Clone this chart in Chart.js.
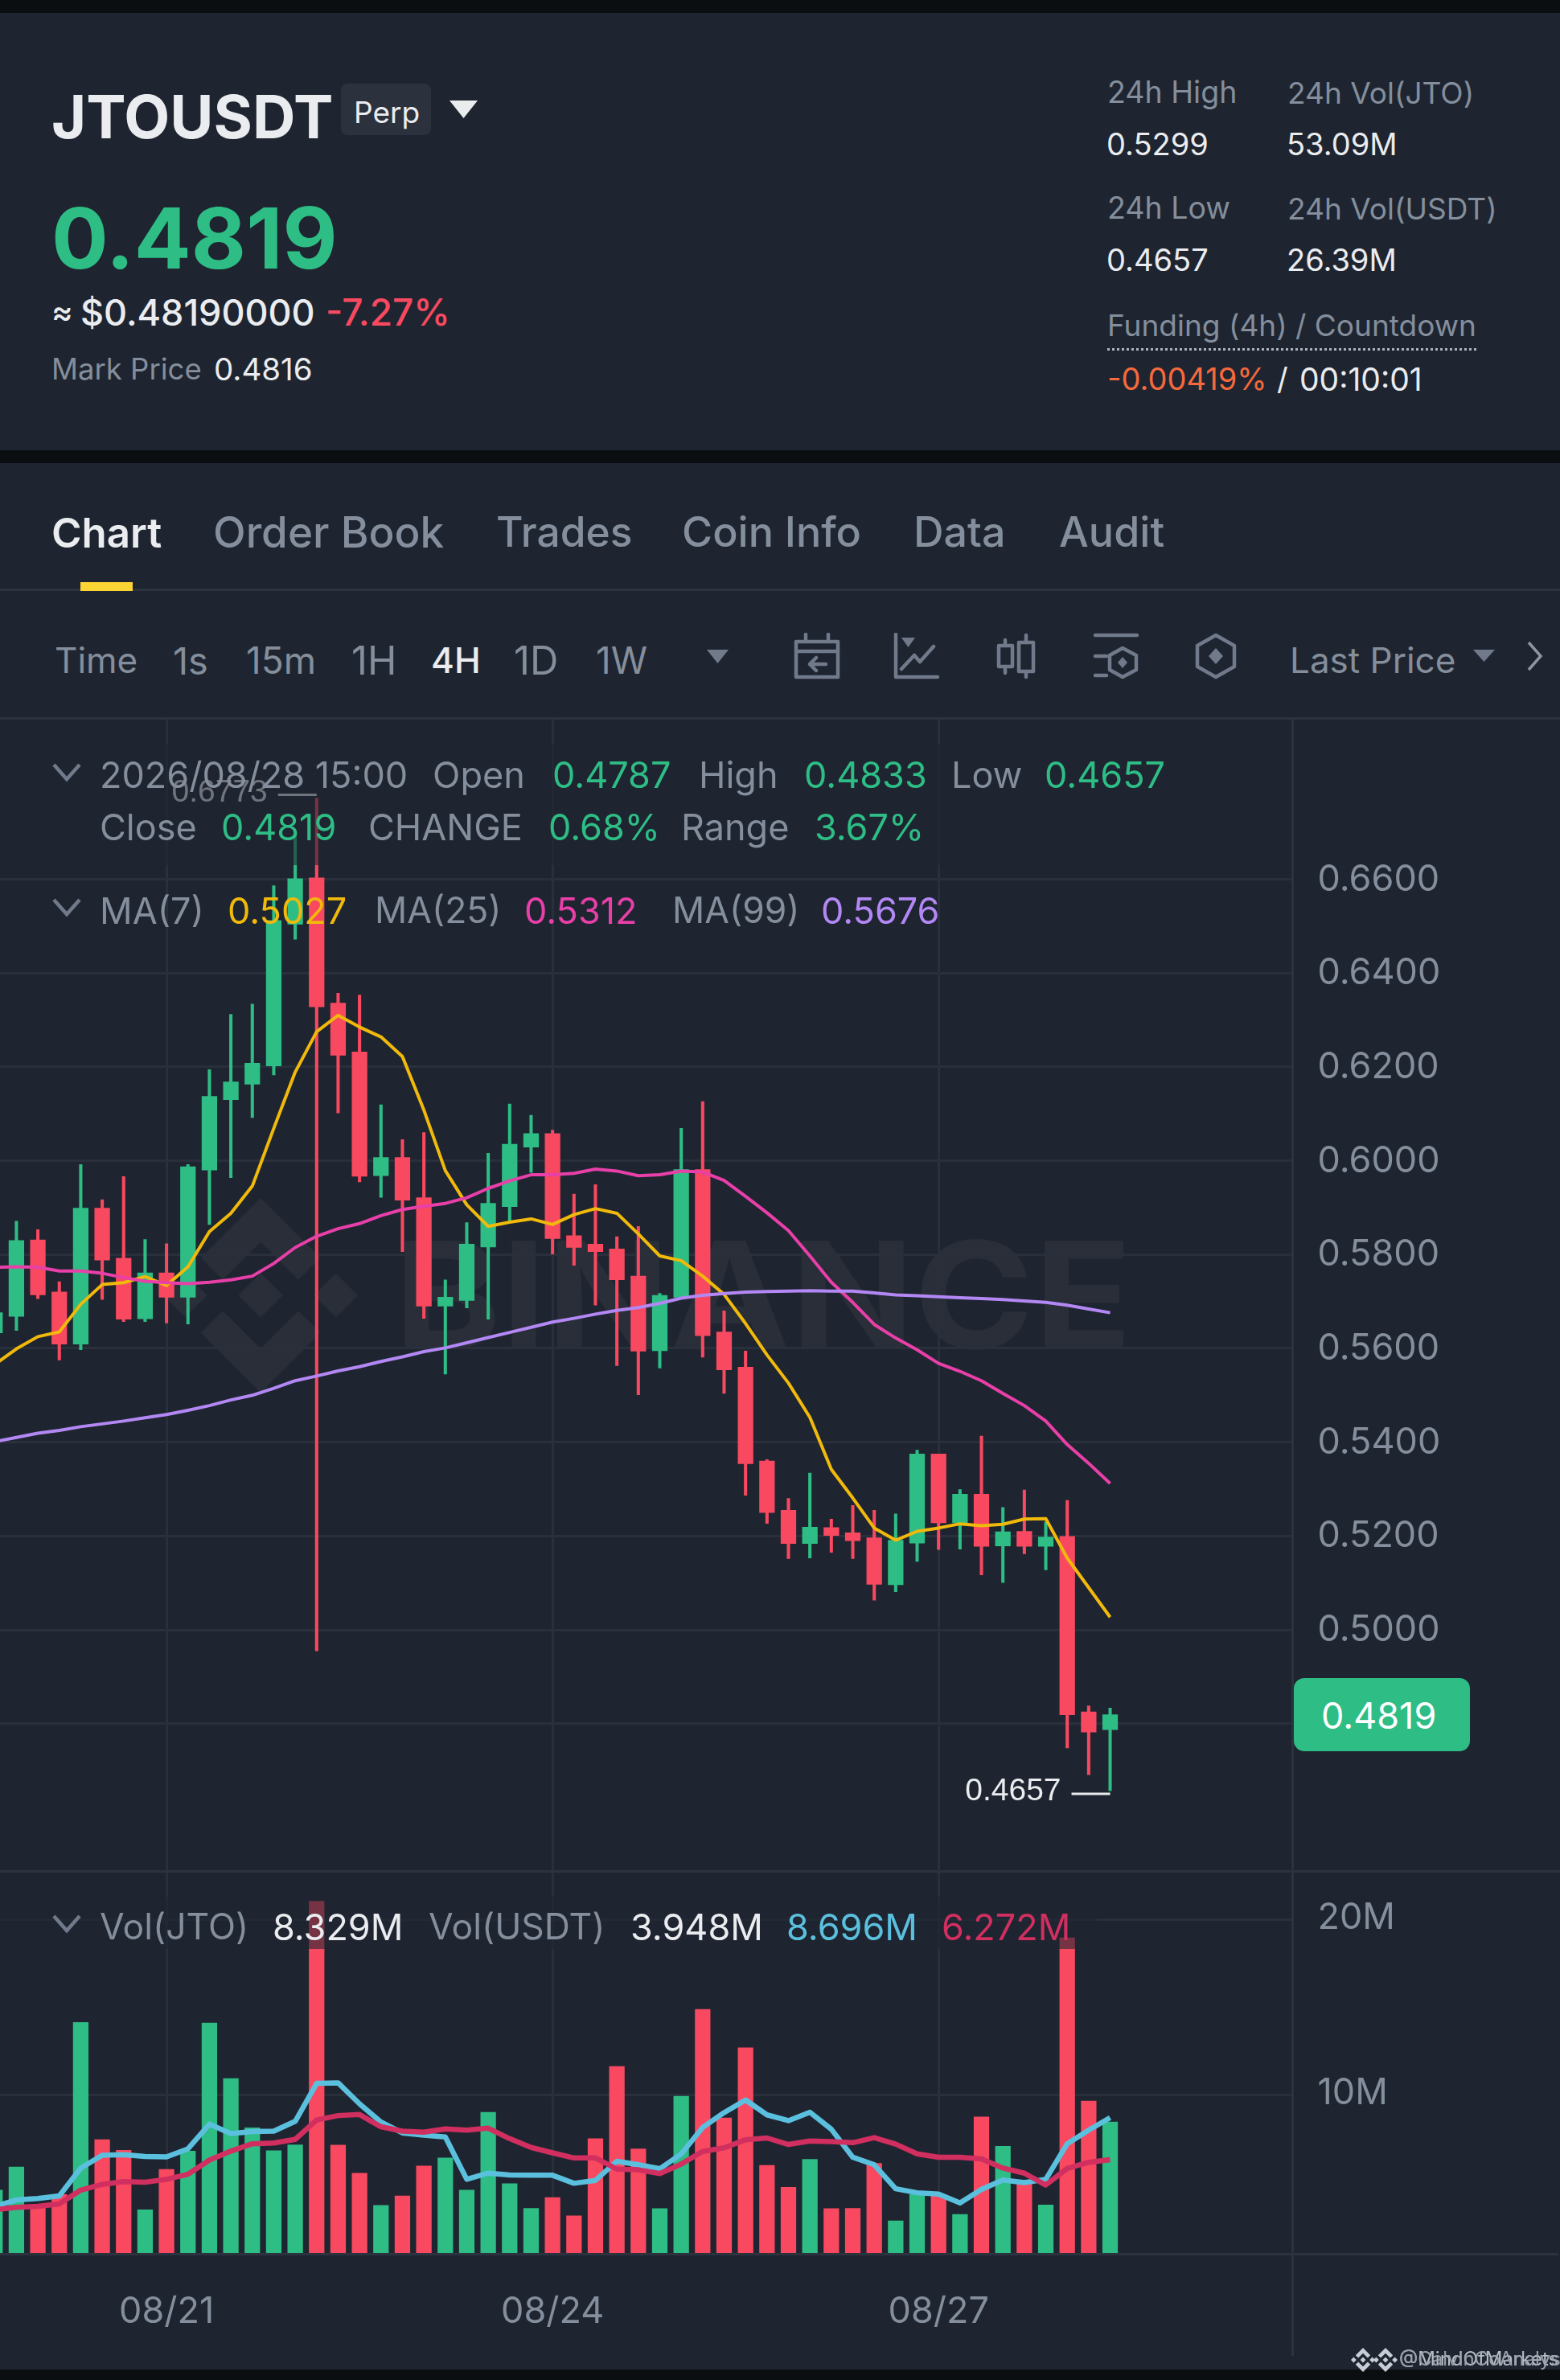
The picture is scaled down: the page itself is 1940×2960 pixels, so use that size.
<!DOCTYPE html>
<html>
<head>
<meta charset="utf-8">
<title>JTOUSDT</title>
<script src="https://cdn.jsdelivr.net/npm/chart.js@4"></script>
<style>
html, body { margin: 0; padding: 0; background: #0b0e11; }
#page { position: relative; width: 1940px; height: 2960px; overflow: hidden; background: #1e2530; font-family: Inter, sans-serif; }
.bar { position: absolute; left: 0; width: 1940px; background: #0b0e11; }
.rule { position: absolute; background: #2c323e; z-index: 3; }
.dim { position: absolute; background: rgba(30,37,48,.6); z-index: 3; }
.t { position: absolute; white-space: pre; line-height: 1; transform: translateY(-50%); z-index: 4; }
canvas { position: absolute; left: 0; z-index: 2; }
svg { position: absolute; z-index: 4; }
#mark { z-index: 1; }
#word { z-index: 1; }
</style>
</head>
<body>
<div id="page">
  <div class="bar" style="top:0;height:16px"></div>
  <div class="bar" style="top:560px;height:16px"></div>
  <div class="bar" style="top:2947px;height:13px"></div>

  <div style="position:absolute;left:424px;top:104px;width:112px;height:64px;background:#2b313d;border-radius:8px"></div>
  <div style="position:absolute;left:1377px;top:433px;width:459px;border-top:3px dotted #aeb4bc;z-index:4"></div>
  <div style="position:absolute;left:100px;top:724px;width:65px;height:11px;background:#fcd535;z-index:4"></div>
  <div class="rule" style="left:0;top:732px;width:1940px;height:3px;z-index:2"></div>
  <div class="rule" style="left:0;top:892px;width:1940px;height:3px"></div>
  <div class="rule" style="left:0;top:2326px;width:1940px;height:3px"></div>
  <div class="rule" style="left:0;top:2802px;width:1938px;height:3px"></div>
  <div class="rule" style="left:1606px;top:2802px;width:3px;height:128px"></div>

  <svg id="mark" width="242" height="242" viewBox="0 0 126.61 126.61" style="left:203px;top:1490px">
    <path fill="#292e39" d="M38.73 53.2l24.59-24.58 24.6 24.6 14.3-14.31L63.32 0 24.42 38.9zM0 63.31L14.3 49l14.31 14.31-14.31 14.3zM38.73 73.41l24.59 24.59 24.6-24.6 14.31 14.29-38.9 38.91-38.91-38.88-.02-.02zM98 63.31l14.3-14.31 14.31 14.3-14.31 14.32zM77.83 63.3L63.32 48.78 52.59 59.51l-1.24 1.23-2.54 2.54 14.51 14.5 14.51-14.47z"/>
  </svg>
  <svg id="word" width="960" height="170" style="left:480px;top:1530px">
    <text x="10" y="147" textLength="918" lengthAdjust="spacingAndGlyphs" font-family="Inter" font-weight="700" font-size="184" fill="#292e39">BINANCE</text>
  </svg>

  <canvas id="priceChart" width="1940" height="1433" style="top:894px"></canvas>
  <canvas id="volChart" width="1940" height="618" style="top:2329px"></canvas>

  <div class="dim" style="left:0;top:925px;width:1460px;height:151px"></div>
  <div class="dim" style="left:0;top:2359px;width:1364px;height:65px"></div>

  <div style="position:absolute;left:1609px;top:2087px;width:219px;height:91px;border-radius:13px;background:#2ebd85;z-index:4"></div>

  <!-- triangles -->
  <svg width="36" height="24" style="left:559px;top:125px"><path d="M0 0H35L17.5 22z" fill="#eaecef"/></svg>
  <svg width="28" height="18" style="left:879px;top:808px"><path d="M0 0H27L13.5 17z" fill="#707a8a"/></svg>
  <svg width="28" height="16" style="left:1832px;top:808px"><path d="M0 0H27L13.5 15z" fill="#707a8a"/></svg>
  <svg width="22" height="38" style="left:1898px;top:797px"><path d="M3 2L18 19L3 36" fill="none" stroke="#8c95a3" stroke-width="3.5"/></svg>
  <svg width="40" height="26" style="left:64px;top:948px"><path d="M3 3L19 21L35 3" fill="none" stroke="#707a8a" stroke-width="4.5"/></svg>
  <svg width="40" height="26" style="left:64px;top:1116px"><path d="M3 3L19 21L35 3" fill="none" stroke="#707a8a" stroke-width="4.5"/></svg>
  <svg width="40" height="26" style="left:64px;top:2380px"><path d="M3 3L19 21L35 3" fill="none" stroke="#707a8a" stroke-width="4.5"/></svg>

  <!-- toolbar icons -->
  <svg width="58" height="58" style="left:987px;top:787px" fill="none" stroke="#707a8a" stroke-width="4.5" stroke-linecap="round" stroke-linejoin="round">
    <rect x="3" y="11" width="52" height="44"/><path d="M3 23H55M15 2V11M43 2V11M40 39H20M28 31L20 39L28 47"/>
  </svg>
  <svg width="58" height="58" style="left:1111px;top:787px" fill="none" stroke="#707a8a" stroke-width="4.5" stroke-linecap="round" stroke-linejoin="round">
    <path d="M3 2V55H55M10 45L26 28L33 36L50 17"/><path d="M10 6H27L18.5 18z" fill="#707a8a" stroke="none"/>
  </svg>
  <svg width="52" height="58" style="left:1238px;top:787px" fill="none" stroke="#707a8a" stroke-width="4.5" stroke-linecap="round" stroke-linejoin="round">
    <rect x="4" y="16" width="17" height="26"/><path d="M12 9V16M12 42V50"/><rect x="29" y="12" width="18" height="36"/><path d="M38 3V12M38 48V55"/>
  </svg>
  <svg width="58" height="58" style="left:1359px;top:787px" fill="none" stroke="#707a8a" stroke-width="4.5" stroke-linecap="round" stroke-linejoin="round">
    <path d="M3 3H55M3 29H17M3 53H17"/><path d="M37 19L54 28V46L37 55L21 46V28z"/><path d="M37 30L43 37L37 44L31 37z" fill="#707a8a" stroke="none"/>
  </svg>
  <svg width="54" height="58" style="left:1485px;top:787px" fill="none" stroke="#707a8a" stroke-width="4.5" stroke-linejoin="round">
    <path d="M27 3L50 16V42L27 55L4 42V16z"/><path d="M27 19L36 29L27 39L18 29z" fill="#707a8a" stroke="none"/>
  </svg>

  <!-- attribution marks -->
  <svg width="34" height="30" viewBox="0 0 126.61 126.61" style="left:1678px;top:2920px"><path fill="#c9ced6" d="M38.73 53.2l24.59-24.58 24.6 24.6 14.3-14.31L63.32 0 24.42 38.9zM0 63.31L14.3 49l14.31 14.31-14.31 14.3zM38.73 73.41l24.59 24.59 24.6-24.6 14.31 14.29-38.9 38.91-38.91-38.88-.02-.02zM98 63.31l14.3-14.31 14.31 14.3-14.31 14.32zM77.83 63.3L63.32 48.78 52.59 59.51l-1.24 1.23-2.54 2.54 14.51 14.5 14.51-14.47z"/></svg>
  <svg width="30" height="30" viewBox="0 0 126.61 126.61" style="left:1708px;top:2920px"><path fill="#c9ced6" d="M38.73 53.2l24.59-24.58 24.6 24.6 14.3-14.31L63.32 0 24.42 38.9zM0 63.31L14.3 49l14.31 14.31-14.31 14.3zM38.73 73.41l24.59 24.59 24.6-24.6 14.31 14.29-38.9 38.91-38.91-38.88-.02-.02zM98 63.31l14.3-14.31 14.31 14.3-14.31 14.32zM77.83 63.3L63.32 48.78 52.59 59.51l-1.24 1.23-2.54 2.54 14.51 14.5 14.51-14.47z"/></svg>
</div>

<script>
const opens = [.5633,.5668,.5831,.5720,.5609,.5899,.5792,.5663,.5761,.5709,.5980,.6130,.6163,.6202,.6504,.6603,.6336,.6232,.5968,.6007,.5921,.5690,.5702,.5816,.5902,.6029,.6058,.5840,.5822,.5812,.5754,.5595,.5709,.5981,.5635,.5560,.5360,.5255,.5184,.5218,.5207,.5196,.5096,.5185,.5375,.5228,.5289,.5179,.5210,.5178,.5199,.4825,.4787];
const highs = [.5700,.5871,.5853,.5742,.5992,.5917,.5966,.5832,.5823,.5992,.6194,.6312,.6334,.6586,.6694,.6773,.6357,.6353,.6119,.6045,.6060,.5746,.5868,.6016,.6121,.6097,.6065,.5929,.5949,.5838,.5860,.5717,.6069,.6126,.5680,.5594,.5363,.5280,.5334,.5236,.5265,.5255,.5247,.5383,.5375,.5299,.5413,.5261,.5298,.5230,.5276,.4838,.4833];
const lows = [.5615,.5638,.5706,.5575,.5597,.5704,.5657,.5657,.5654,.5652,.5864,.5964,.6092,.6183,.6472,.4955,.6102,.5955,.5922,.5806,.5664,.5545,.5686,.5662,.5872,.5975,.5801,.5777,.5692,.5563,.5501,.5558,.5707,.5581,.5504,.5287,.5227,.5152,.5153,.5165,.5152,.5063,.5081,.5146,.5171,.5172,.5117,.5101,.5162,.5128,.4748,.4691,.4657];
const closes = [.5676,.5830,.5714,.5609,.5899,.5788,.5662,.5761,.5709,.5987,.6137,.6168,.6208,.6512,.6601,.6328,.6225,.5967,.6007,.5916,.5690,.5709,.5822,.5909,.6035,.6058,.5834,.5815,.5806,.5746,.5594,.5713,.5981,.5627,.5554,.5354,.5250,.5184,.5219,.5201,.5190,.5097,.5191,.5375,.5228,.5289,.5178,.5209,.5178,.5198,.4819,.4782,.4819];

const ma7 = [.5566,.5599,.5625,.5635,.5694,.5736,.5740,.5753,.5734,.5774,.5849,.5888,.5946,.6069,.6189,.6275,.6310,.6285,.6264,.6222,.6108,.5979,.5906,.5860,.5869,.5876,.5864,.5885,.5898,.5888,.5844,.5797,.5787,.5754,.5715,.5653,.5586,.5526,.5453,.5342,.5281,.5217,.5191,.5210,.5217,.5226,.5222,.5225,.5236,.5237,.5153,.5090,.5027];
const ma25 = [.5773,.5774,.5773,.5765,.5765,.5760,.5751,.5743,.5740,.5738,.5741,.5746,.5754,.5781,.5815,.5839,.5855,.5866,.5883,.5896,.5903,.5909,.5921,.5941,.5957,.5970,.5970,.5973,.5982,.5978,.5968,.5970,.5978,.5976,.5958,.5924,.5889,.5851,.5797,.5741,.5698,.5651,.5622,.5597,.5568,.5551,.5531,.5504,.5478,.5445,.5395,.5355,.5312];
const ma99 = [.5401,.5410,.5419,.5425,.5433,.5439,.5445,.5452,.5459,.5468,.5478,.5490,.5500,.5515,.5531,.5541,.5552,.5561,.5572,.5582,.5593,.5601,.5612,.5623,.5634,.5645,.5656,.5664,.5673,.5681,.5687,.5696,.5707,.5713,.5717,.5720,.5721,.5722,.5723,.5722,.5722,.5718,.5714,.5712,.5710,.5708,.5706,.5704,.5701,.5698,.5692,.5684,.5676];

const volumes = [4.56,5.88,3.63,4.31,14.14,7.44,6.84,3.44,5.74,6.79,14.10,10.93,8.12,6.81,7.15,21.06,7.13,5.53,3.69,4.23,5.94,6.40,4.56,9.01,4.93,3.52,4.14,3.09,7.50,11.62,6.92,3.50,9.92,14.89,8.68,12.69,5.97,4.72,6.32,3.50,3.52,6.09,2.80,4.31,4.31,3.17,8.74,7.06,4.99,3.71,18.97,9.65,8.45];
const volMaA = [3.63,4.00,4.08,4.23,5.82,6.55,6.59,6.48,6.46,6.92,8.33,7.79,7.91,7.93,8.49,10.66,10.69,9.49,8.45,7.83,7.70,7.60,5.18,5.53,5.43,5.41,5.41,4.95,5.12,6.21,6.01,5.78,6.63,8.14,8.99,9.71,8.86,8.53,9.01,8.04,6.44,6.01,4.64,4.41,4.33,3.83,4.60,5.14,4.99,5.18,7.21,7.99,8.70];
const volMaB = [3.44,3.58,3.63,3.77,4.56,4.89,5.05,5.01,5.18,5.47,6.28,6.79,7.21,7.25,7.46,8.57,8.82,8.88,8.18,7.93,7.87,8.06,7.99,8.10,7.50,7.00,6.69,6.40,6.40,5.76,5.72,5.51,6.05,6.77,6.98,7.44,7.54,7.17,7.37,7.33,7.27,7.56,7.19,6.63,6.44,6.44,6.34,5.82,5.53,4.85,5.80,6.15,6.30];

const priceTicks = [.48,.50,.52,.54,.56,.58,.60,.62,.64,.66];
const priceLabels = ['', '0.5000', '0.5200', '0.5400', '0.5600', '0.5800', '0.6000', '0.6200', '0.6400', '0.6600'];
const volTicks = [10, 20];
const volLabels = ['10M', '20M'];
const dateTicks = [8, 26, 44];
const dateLabels = ['08/21', '08/24', '08/27'];

const GREEN = '#2ebd85';
const RED = '#f84960';
const GRID = '#292f3b';
const AXIS = '#2c323e';
const GRAY = '#848e9c';
const WHITE = '#eaecef';
const FONT = 'Inter';

// text, left, centre y, size, colour, weight
const uiTexts = [
  ['JTOUSDT', 64, 145, 74, WHITE, 700],
  ['Perp', 440, 139, 37, WHITE, 400],
  ['0.4819', 64, 295, 105, GREEN, 700],
  ['≈', 64, 388, 40, WHITE, 500],
  ['$0.48190000', 100, 388, 45, WHITE, 500],
  ['-7.27%', 405, 388, 46, RED, 500],
  ['Mark Price', 64, 459, 36.5, GRAY, 400],
  ['0.4816', 266, 459, 38.5, WHITE, 400],
  ['24h High', 1377, 115, 37.5, GRAY, 400],
  ['0.5299', 1376, 179, 38, WHITE, 400],
  ['24h Vol(JTO)', 1601, 115, 37, GRAY, 400],
  ['53.09M', 1600, 179, 38, WHITE, 400],
  ['24h Low', 1377, 259, 37.5, GRAY, 400],
  ['0.4657', 1376, 323, 38, WHITE, 400],
  ['24h Vol(USDT)', 1601, 259, 37, GRAY, 400],
  ['26.39M', 1600, 323, 38, WHITE, 400],
  ['Funding (4h) / Countdown', 1377, 404, 37, GRAY, 400],
  ['-0.00419%', 1377, 471, 38, '#f6693d', 400],
  ['/', 1588, 471, 38, WHITE, 400],
  ['00:10:01', 1616, 471, 39, WHITE, 400],
  ['Chart', 64, 662, 51, WHITE, 600],
  ['Order Book', 265, 662, 53, GRAY, 500],
  ['Trades', 617, 662, 51.5, GRAY, 500],
  ['Coin Info', 848, 662, 52, GRAY, 500],
  ['Data', 1136, 662, 52, GRAY, 500],
  ['Audit', 1317, 662, 52, GRAY, 500],
  ['Time', 68, 821, 44, GRAY, 400],
  ['1s', 215, 821, 47, GRAY, 400],
  ['15m', 306, 821, 46, GRAY, 400],
  ['1H', 437, 821, 49, GRAY, 400],
  ['4H', 536, 821, 44, WHITE, 500],
  ['1D', 639, 821, 49, GRAY, 400],
  ['1W', 741, 821, 46, GRAY, 400],
  ['Last Price', 1604, 821, 44, GRAY, 400],
  ['2026/08/28 15:00', 124, 963, 45, GRAY, 400],
  ['Open', 538, 963, 45, GRAY, 400],
  ['0.4787', 687, 963, 45, GREEN, 400],
  ['High', 869, 963, 45, GRAY, 400],
  ['0.4833', 1000, 963, 45, GREEN, 400],
  ['Low', 1183, 963, 45, GRAY, 400],
  ['0.4657', 1299, 963, 45, GREEN, 400],
  ['Close', 124, 1028, 45, GRAY, 400],
  ['0.4819', 275, 1028, 45, GREEN, 400],
  ['CHANGE', 458, 1028, 45, GRAY, 400],
  ['0.68%', 682, 1028, 45, GREEN, 400],
  ['Range', 847, 1028, 45, GRAY, 400],
  ['3.67%', 1013, 1028, 45, GREEN, 400],
  ['MA(7)', 124, 1132, 45, GRAY, 400],
  ['0.5027', 283, 1132, 45, '#f0b90b', 400],
  ['MA(25)', 466, 1132, 44.5, GRAY, 400],
  ['0.5312', 652, 1132, 45, '#e83fa8', 400],
  ['MA(99)', 836, 1132, 44.5, GRAY, 400],
  ['0.5676', 1021, 1132, 45, '#b388f5', 400],
  ['Vol(JTO)', 124, 2396, 44.5, GRAY, 400],
  ['8.329M', 339, 2396, 45, WHITE, 400],
  ['Vol(USDT)', 533, 2396, 44.5, GRAY, 400],
  ['3.948M', 784, 2396, 45, WHITE, 400],
  ['8.696M', 978, 2396, 45, '#5bc0de', 400],
  ['6.272M', 1171, 2396, 45, '#d12f60', 400],
  ['0.4819', 1643, 2133, 45, '#ffffff', 400],
  ['@MindOfMarkets', 1740, 2934, 24, '#b7bdc6', 400],
  ['@CalvinCoAnalyst', 1740, 2934, 24, '#9aa1ab', 400],
];

const page = document.getElementById('page');
uiTexts.forEach(([str, x, y, size, color, weight]) => {
  const el = document.createElement('div');
  el.className = 't';
  el.textContent = str;
  el.style.cssText = `left:${x}px;top:${y}px;font-size:${size}px;color:${color};font-weight:${weight}`;
  page.appendChild(el);
});

const indices = opens.map((_, i) => i);
const candleColor = ctx => closes[ctx.dataIndex] >= opens[ctx.dataIndex] ? GREEN : RED;
const line = (values, color, width, order) => ({
  type: 'line', order, data: values.map((y, x) => ({x, y})),
  borderColor: color, borderWidth: width, pointRadius: 0, tension: 0,
  borderJoinStyle: 'round', borderCapStyle: 'butt',
});

// x axis shared by both panes, a candle is 26.67px apart on the 1607px plot
const xRange = {type: 'linear', min: 0.2347, max: 60.51};

const extremeLabels = {
  id: 'extremeLabels',
  afterDatasetsDraw(chart) {
    const {x, y} = chart.scales;
    const {ctx} = chart;
    [[highs.indexOf(Math.max(...highs)), Math.max(...highs), -4, -7], [lows.indexOf(Math.min(...lows)), Math.min(...lows), 4, 0]].forEach(([i, val, lineOff, textOff]) => {
      const px = x.getPixelForValue(i);
      const py = y.getPixelForValue(val);
      ctx.save();
      ctx.strokeStyle = WHITE;
      ctx.lineWidth = 3;
      ctx.beginPath();
      ctx.moveTo(px - 48, py + lineOff);
      ctx.lineTo(px, py + lineOff);
      ctx.stroke();
      ctx.fillStyle = WHITE;
      ctx.font = '39px "Liberation Sans"';
      ctx.textAlign = 'right';
      ctx.textBaseline = 'middle';
      ctx.fillText(val.toFixed(4), px - 61, py + textOff + 1);
      ctx.restore();
    });
  },
};

new Chart(document.getElementById('priceChart'), {
  data: {
    datasets: [
      line(ma99, '#b388f5', 4, 0),
      line(ma25, '#e83fa8', 4, 1),
      line(ma7, '#f0b90b', 4, 2),
      {type: 'bar', order: 3, grouped: false, barThickness: 18.6,
        data: indices.map(i => ({x: i, y: [opens[i], closes[i]]})),
        backgroundColor: candleColor},
      {type: 'bar', order: 4, grouped: false, barThickness: 3.4,
        data: indices.map(i => ({x: i, y: [lows[i], highs[i]]})),
        backgroundColor: candleColor},
    ],
  },
  options: {
    responsive: false, animation: false,
    layout: {padding: 0},
    plugins: {legend: {display: false}, tooltip: {enabled: false}},
    scales: {
      x: {...xRange, offset: false,
        grid: {color: GRID, lineWidth: 3, drawTicks: false, offset: false},
        border: {display: false},
        ticks: {display: false},
        afterBuildTicks: s => { s.ticks = dateTicks.map(value => ({value})); },
        afterFit: s => { s.height = 0; },
      },
      y: {type: 'linear', position: 'right', min: 0.44858, max: 0.6942,
        grid: {color: GRID, lineWidth: 3, drawTicks: false},
        border: {display: true, color: AXIS, width: 3},
        ticks: {autoSkip: false, color: GRAY, font: {family: FONT, size: 45}, padding: 31,
          crossAlign: 'near', labelOffset: 0.5,
          callback: v => priceLabels[priceTicks.findIndex(t => Math.abs(t - v) < 1e-6)] ?? ''},
        afterBuildTicks: s => { s.ticks = priceTicks.map(value => ({value})); },
        afterFit: s => { s.width = 332.5; s.paddingTop = 0; s.paddingBottom = 0; },
      },
    },
  },
  plugins: [extremeLabels],
});

new Chart(document.getElementById('volChart'), {
  data: {
    datasets: [
      line(volMaB, '#d12f60', 6.5, 0),
      line(volMaA, '#5bc0de', 6.5, 1),
      {type: 'bar', order: 2, barThickness: 18.6,
        data: indices.map(i => ({x: i, y: volumes[i]})),
        backgroundColor: candleColor},
    ],
  },
  options: {
    responsive: false, animation: false,
    layout: {padding: 0},
    plugins: {legend: {display: false}, tooltip: {enabled: false}},
    scales: {
      x: {...xRange, offset: false,
        grid: {color: GRID, lineWidth: 3, drawTicks: false, offset: false},
        border: {display: false},
        ticks: {autoSkip: false, maxRotation: 0, color: GRAY, font: {family: FONT, size: 45}, padding: 46,
          callback: v => dateLabels[dateTicks.indexOf(v)] ?? ''},
        afterBuildTicks: s => { s.ticks = dateTicks.map(value => ({value})); },
        afterFit: s => { s.height = 145; s.paddingLeft = 0; s.paddingRight = 0; },
      },
      y: {type: 'linear', position: 'right', min: 0.97, max: 22.7,
        grid: {color: GRID, lineWidth: 3, drawTicks: false},
        border: {display: true, color: AXIS, width: 3},
        ticks: {autoSkip: false, color: GRAY, font: {family: FONT, size: 45}, padding: 31,
          crossAlign: 'near', labelOffset: -2,
          callback: v => volLabels[volTicks.indexOf(v)] ?? ''},
        afterBuildTicks: s => { s.ticks = volTicks.map(value => ({value})); },
        afterFit: s => { s.width = 332.5; s.paddingTop = 0; s.paddingBottom = 0; },
      },
    },
  },
});
</script>
</body>
</html>
